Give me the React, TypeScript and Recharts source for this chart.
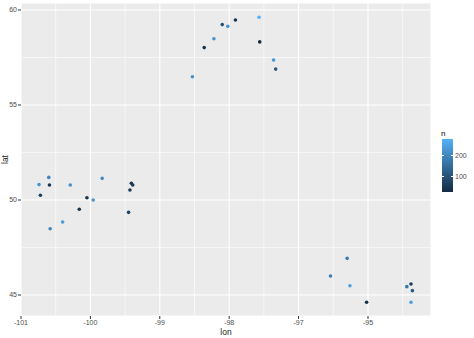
import React from 'react';
import { ScatterChart, Scatter, XAxis, YAxis, CartesianGrid, ReferenceLine } from 'recharts';

// station positions
const lon = [
  -100.60, -100.74, -100.59, -100.72, -100.29, -99.83, -100.05, -99.96, -100.16, -100.40, -100.58,
  -99.41, -99.39, -99.43, -99.45,
  -98.53, -98.36, -98.22, -98.10, -98.02, -97.91, -97.57, -97.56, -97.36, -97.33,
  -96.30, -96.54, -96.26, -96.02, -95.44, -95.38, -95.36, -95.38,
];
const lat = [
  51.19, 50.81, 50.79, 50.25, 50.79, 51.14, 50.12, 50.0, 49.51, 48.84, 48.49,
  50.88, 50.79, 50.53, 49.35,
  56.49, 58.02, 58.49, 59.23, 59.14, 59.47, 59.62, 58.32, 57.37, 56.89,
  46.93, 46.0, 45.49, 44.62, 45.44, 45.58, 45.23, 44.62,
];
const n = [
  200, 230, 40, 60, 220, 210, 40, 230, 40, 240, 200,
  40, 50, 50, 70,
  220, 40, 230, 100, 230, 35, 284, 21, 230, 110,
  180, 180, 250, 30, 170, 60, 120, 250,
];

const xTicks = [-101, -100, -99, -98, -97, -96];
const xTickLabels = ['-101', '-100', '-99', '-98', '-97', '-95'];
const xMinor = [-100.5, -99.5, -98.5, -97.5, -96.5, -95.5];
const yTicks = [45, 50, 55, 60];
const yMinor = [47.5, 52.5, 57.5];
const legendBreaks = [100, 200];

const nMin = 21;
const nMax = 284;
const LOW = [0x13, 0x2b, 0x43];
const HIGH = [0x56, 0xb1, 0xf7];

const colour = (v: number) => {
  const t = Math.max(0, Math.min(1, (v - nMin) / (nMax - nMin)));
  const c = LOW.map((l, i) => Math.round(l + (HIGH[i] - l) * t));
  return `rgb(${c[0]},${c[1]},${c[2]})`;
};

const data = lon.map((x, i) => ({ lon: x, lat: lat[i], n: n[i] }));

const FONT = '"Liberation Sans", Arial, sans-serif';
const tickStyle = { fontSize: 7, fill: '#4D4D4D', fontFamily: FONT };

const Dot = (props: any) => {
  const { cx, cy, payload } = props;
  return <circle cx={cx} cy={cy} r={1.8} fill={colour(payload.n)} />;
};

const BAR_TOP = 139;
const BAR_H = 53;

const ColourBar: React.FC = () => {
  const pos = (v: number) => BAR_TOP + ((nMax - v) / (nMax - nMin)) * BAR_H;
  return (
    <div style={{ position: 'absolute', left: 0, top: 0, width: 474, height: 338, pointerEvents: 'none', fontFamily: FONT }}>
      <div style={{ position: 'absolute', left: 441, top: BAR_TOP - 10, fontSize: 8, lineHeight: '9px', color: '#000' }}>n</div>
      <div
        style={{
          position: 'absolute',
          left: 442,
          top: BAR_TOP,
          width: 11,
          height: BAR_H,
          background: `linear-gradient(to top, ${colour(nMin)}, ${colour(nMax)})`,
        }}
      />
      {legendBreaks.map((b) => (
        <React.Fragment key={b}>
          <div style={{ position: 'absolute', left: 442, top: pos(b) - 0.5, width: 2, height: 1, background: '#fff' }} />
          <div style={{ position: 'absolute', left: 451, top: pos(b) - 0.5, width: 2, height: 1, background: '#fff' }} />
          <div style={{ position: 'absolute', left: 455, top: pos(b) - 4.5, fontSize: 7, color: '#4D4D4D', lineHeight: '9px' }}>
            {b}
          </div>
        </React.Fragment>
      ))}
    </div>
  );
};

const App: React.FC = () => {
  return (
    <div style={{ position: 'absolute', left: 0, top: 0, width: 474, height: 338, background: '#fff' }}>
      <ScatterChart width={474} height={338} margin={{ top: 3, right: 43, bottom: 0, left: 0 }}>
        <CartesianGrid fill="#EBEBEB" stroke="#FFFFFF" strokeWidth={1.1} />
        {xMinor.map((v) => (
          <ReferenceLine key={`x${v}`} x={v} stroke="#FFFFFF" strokeWidth={0.55} />
        ))}
        {yMinor.map((v) => (
          <ReferenceLine key={`y${v}`} y={v} stroke="#FFFFFF" strokeWidth={0.55} />
        ))}
        <XAxis
          type="number"
          dataKey="lon"
          domain={[-101.0, -95.092]}
          allowDataOverflow
          ticks={xTicks}
          tickFormatter={(v) => xTickLabels[xTicks.indexOf(v)] ?? String(v)}
          interval={0}
          height={22}
          axisLine={false}
          tickLine={{ stroke: '#333333' }}
          tickSize={3}
          tickMargin={1}
          tick={tickStyle}
          label={{
            content: (p: any) => (
              <text
                x={p.viewBox.x + p.viewBox.width / 2}
                y={p.viewBox.y + p.viewBox.height - 3}
                textAnchor="middle"
                fontSize={8.5}
                fontWeight="normal"
                fontFamily={FONT}
                fill="#222"
              >
                lon
              </text>
            ),
          }}
        />
        <YAxis
          type="number"
          dataKey="lat"
          domain={[43.895, 60.368]}
          allowDataOverflow
          ticks={yTicks}
          interval={0}
          width={21}
          axisLine={false}
          tickLine={{ stroke: '#333333' }}
          tickSize={3}
          tickMargin={1}
          tick={tickStyle}
          label={{
            content: (p: any) => {
              const x = p.viewBox.x + 8;
              const y = p.viewBox.y + p.viewBox.height / 2;
              return (
                <text
                  x={x}
                  y={y}
                  transform={`rotate(-90 ${x} ${y})`}
                  textAnchor="middle"
                  fontSize={8.5}
                  fontWeight="normal"
                  fontFamily={FONT}
                  fill="#222"
                >
                  lat
                </text>
              );
            },
          }}
        />
        <Scatter data={data} shape={Dot} isAnimationActive={false} />
      </ScatterChart>
      <ColourBar />
    </div>
  );
};

export default App;
